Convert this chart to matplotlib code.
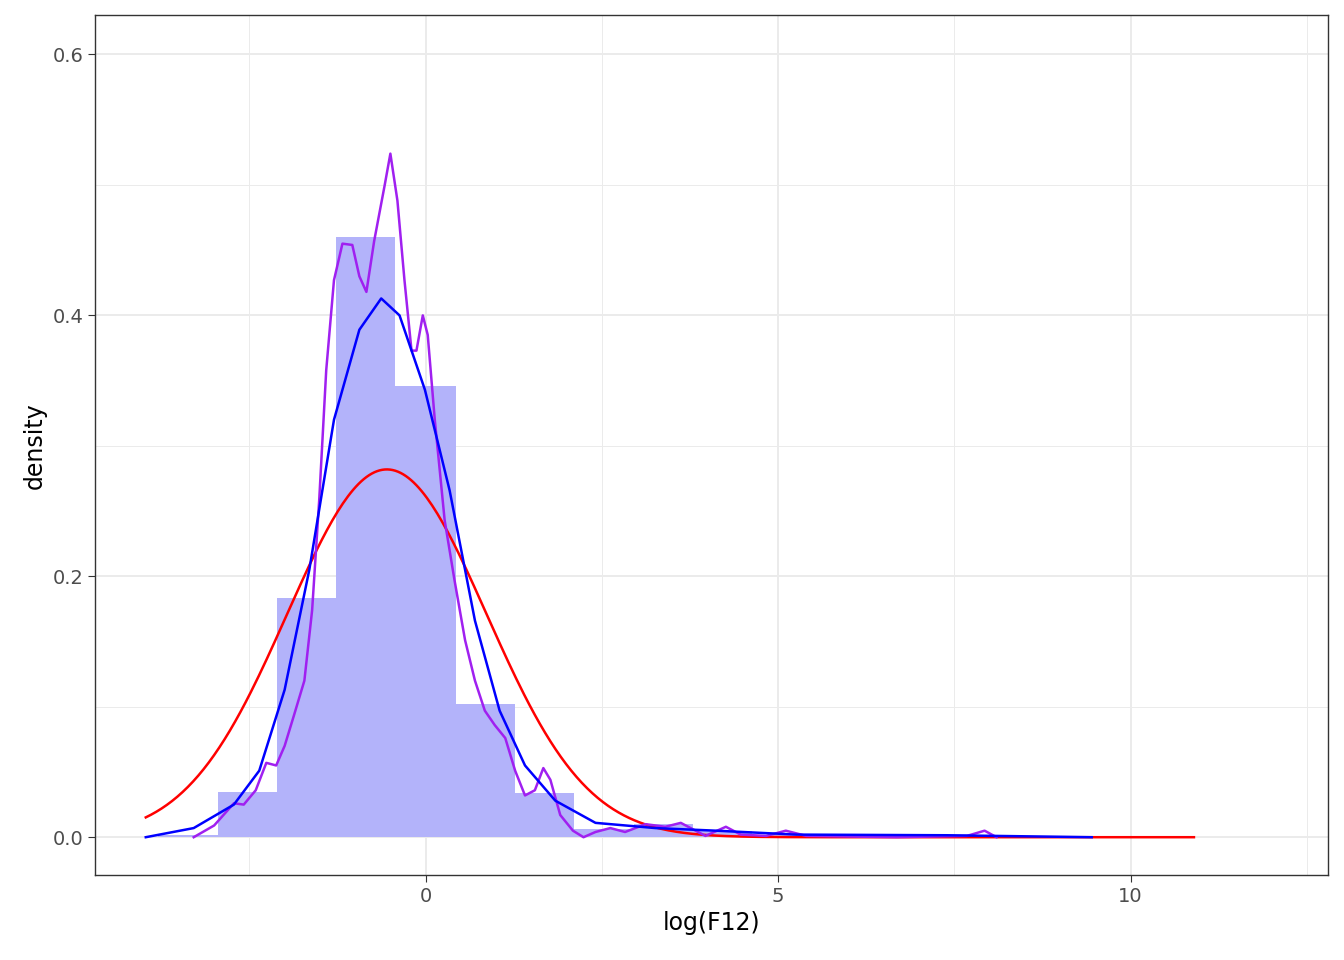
import numpy as np
import matplotlib
matplotlib.use("Agg")
import matplotlib.pyplot as plt

bin_edges = [-3.79, -2.95, -2.11, -1.27, -0.43, 0.43, 1.27, 2.11, 2.95, 3.79, 4.63, 5.47, 6.31, 7.15, 7.99, 8.83]
bin_heights = [0.002, 0.035, 0.183, 0.46, 0.346, 0.102, 0.034, 0.006, 0.010, 0.005, 0.002, 0.001, 0.001, 0.001, 0.001]

norm_mean, norm_sd = -0.55, 1.415
norm_range = (-3.97, 10.9)

blue_x = [-3.97, -3.29, -2.72, -2.36, -2.0, -1.65, -1.3, -0.94, -0.63, -0.37, -0.01, 0.34, 0.7, 1.05, 1.41, 1.84, 2.41, 3.26, 4.12, 5.26, 7.4, 9.45]
blue_y = [0.0, 0.007, 0.025, 0.051, 0.113, 0.205, 0.32, 0.389, 0.413, 0.4, 0.343, 0.266, 0.166, 0.097, 0.055, 0.028, 0.011, 0.007, 0.005, 0.002, 0.0015, 0.0]

purple_x = [-3.29, -3.0, -2.72, -2.58, -2.41, -2.26, -2.12, -2.0, -1.87, -1.72, -1.61, -1.51, -1.41, -1.3, -1.18, -1.04, -0.94, -0.84, -0.73, -0.58, -0.5, -0.4, -0.3, -0.2, -0.13, -0.04, 0.03, 0.13, 0.27, 0.41, 0.56, 0.7, 0.84, 0.98, 1.13, 1.27, 1.41, 1.55, 1.67, 1.77, 1.91, 2.09, 2.24, 2.41, 2.62, 2.83, 3.12, 3.4, 3.62, 3.83, 3.97, 4.26, 4.47, 4.83, 5.11, 5.4, 6.68, 7.68, 7.93, 8.1]
purple_y = [0.0, 0.009, 0.026, 0.025, 0.036, 0.057, 0.055, 0.07, 0.093, 0.12, 0.174, 0.258, 0.358, 0.427, 0.455, 0.454, 0.43, 0.418, 0.457, 0.5, 0.524, 0.488, 0.427, 0.373, 0.373, 0.4, 0.385, 0.32, 0.243, 0.197, 0.151, 0.12, 0.097, 0.086, 0.076, 0.051, 0.032, 0.036, 0.053, 0.044, 0.017, 0.005, 0.0, 0.004, 0.007, 0.004, 0.01, 0.008, 0.011, 0.005, 0.001, 0.008, 0.002, 0.001, 0.005, 0.001, 0.0, 0.001, 0.005, 0.0]

x_ticks = [0, 5, 10]
y_ticks = [0.0, 0.2, 0.4, 0.6]

fig = plt.figure(figsize=(13.44, 9.6), dpi=100)
ax = fig.add_axes([0.0707, 0.0885, 0.9173, 0.8955])

ax.bar(bin_edges[:-1], bin_heights, width=np.diff(bin_edges), align="edge",
       color="#b3b3fa", edgecolor="none", zorder=2)

nx = np.linspace(norm_range[0], norm_range[1], 400)
ny = np.exp(-0.5 * ((nx - norm_mean) / norm_sd) ** 2) / (norm_sd * np.sqrt(2 * np.pi))
ax.plot(nx, ny, color="red", lw=1.8, zorder=3)
ax.plot(purple_x, purple_y, color="#a020f0", lw=1.8, zorder=4)
ax.plot(blue_x, blue_y, color="blue", lw=1.8, zorder=5)

ax.set_xlim(-4.69, 12.8)
ax.set_ylim(-0.029, 0.63)
ax.set_xticks(x_ticks)
ax.set_yticks(y_ticks)
ax.set_yticklabels([f"{v:.1f}" for v in y_ticks])
ax.set_xticks([-2.5, 2.5, 7.5, 12.5], minor=True)
ax.set_yticks([0.1, 0.3, 0.5], minor=True)
ax.grid(True, which="major", color="#ebebeb", lw=1.4, zorder=0)
ax.grid(True, which="minor", color="#ebebeb", lw=0.7, zorder=0)
ax.set_axisbelow(True)
ax.tick_params(which="minor", length=0)
ax.tick_params(which="major", length=5, color="#333333", labelsize=14, labelcolor="#4d4d4d")
for s in ax.spines.values():
    s.set_color("#333333")
    s.set_linewidth(1.0)
ax.set_xlabel("log(F12)", fontsize=17)
ax.set_ylabel("density", fontsize=17)
fig.savefig("out.png", dpi=100)
